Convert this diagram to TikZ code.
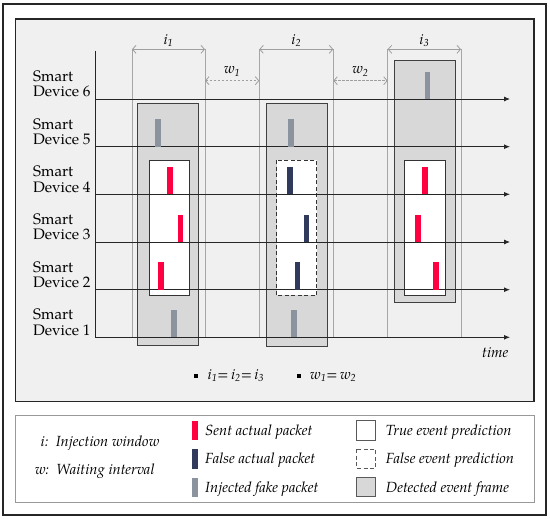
\documentclass[tikz,border=0pt]{standalone}
\usepackage{fontspec}
\setmainfont{TeX Gyre Pagella}
\usepackage{tikz}
\usetikzlibrary{arrows.meta}

\definecolor{sentred}{HTML}{FF0040}
\definecolor{falsenavy}{HTML}{2F3A5C}
\definecolor{fakegray}{HTML}{8A939E}
\definecolor{panelgray}{HTML}{F0F0F0}
\definecolor{framegray}{HTML}{D8D8D8}

\tikzset{
  devline/.style={black!85,line width=0.9pt,-{Latex[length=6pt,width=5pt]}},
  winline/.style={gray!70,line width=1pt},
  dimarrow/.style={gray!75,line width=0.8pt,
    {Straight Barb[length=3.5pt,width=8pt]}-{Straight Barb[length=3.5pt,width=8pt]}},
  waitarrow/.style={dimarrow,dash pattern=on 2.5pt off 1.5pt},
  eventframe/.style={draw=black!75,fill=framegray,line width=1pt},
  truebox/.style={draw=black!80,fill=white,line width=1pt},
  falsebox/.style={truebox,dash pattern=on 4pt off 2.5pt},
  devlabel/.style={align=left,inner sep=0pt,anchor=south west,
    font=\fontsize{15.2}{15.3}\selectfont},
  itlabel/.style={inner sep=0pt,font=\fontsize{14.7}{16}\selectfont\itshape},
}

\begin{document}
\begin{tikzpicture}[x=1pt,y=-1pt]
  \useasboundingbox (0,0) rectangle (550,519);
  \draw[black!85,line width=1.5pt,fill=white] (3,4) rectangle (546,515);
  \draw[black!85,line width=1.5pt,fill=panelgray] (15.5,19) rectangle (534,401.7);
  \draw[gray!80,line width=1pt,fill=white] (15.5,415) rectangle (534,502.7);

  % injection windows
  \foreach \x in {132,205,259.3,333.3,387.7,461}
    \draw[winline] (\x,49.3) -- (\x,337.3);
  \coordinate (a1) at (132,49.3);   \coordinate (b1) at (205,49.3);
  \coordinate (a2) at (259.3,49.3); \coordinate (b2) at (333.3,49.3);
  \coordinate (a3) at (387.7,49.3); \coordinate (b3) at (461,49.3);
  \coordinate (c1) at (205,80.7);   \coordinate (d1) at (259.3,80.7);
  \coordinate (c2) at (333.3,80.7); \coordinate (d2) at (387.7,80.7);
  \draw[dimarrow] (a1) -- (b1);
  \draw[dimarrow] (a2) -- (b2);
  \draw[dimarrow] (a3) -- (b3);
  \draw[waitarrow] (c1) -- (d1);
  \draw[waitarrow] (c2) -- (d2);
  \node[itlabel,anchor=base] (ione) at (168.5,44.5) {i\textsubscript{1}};
  \node[itlabel,anchor=base] (itwo) at (296.3,44.5) {i\textsubscript{2}};
  \node[itlabel,anchor=base] (ithree) at (424.3,44.5) {i\textsubscript{3}};
  \node[itlabel,anchor=base] (wone) at (232.2,74) {w\textsubscript{1}};
  \node[itlabel,anchor=base] (wtwo) at (360.5,74) {w\textsubscript{2}};

  % detected event frames and predictions
  \draw[eventframe] (137.3,103.7) rectangle (198.7,345.7);
  \draw[eventframe] (266,104) rectangle (327.3,346);
  \draw[eventframe] (394,60.7) rectangle (455.3,302.7);
  \draw[truebox] (149.7,160.7) rectangle (189.7,295.3);
  \draw[falsebox] (276.7,160.5) rectangle (316.7,295.3);
  \draw[truebox] (404.7,160.7) rectangle (445.3,295.3);

  % device time lines
  \draw[black!85,line width=0.9pt] (95.3,50.7) -- (95.3,337.3);
  \foreach \n/\y in {1/337.3,2/289.7,3/242,4/194.3,5/146.7,6/99}{
    \coordinate (s\n) at (95.3,\y);
    \coordinate (e\n) at (510,\y);
    \draw[devline] (s\n) -- (e\n);
    \node[devlabel] (dev\n) at (33,\y-1.5) {Smart\\Device \n};
  }
  \node[itlabel,anchor=base east] (time) at (508.5,357) {time};

  % packets
  \fill[fakegray]  (154.7,119.3) rectangle +(5.8,27.4);
  \fill[sentred]   (166.7,166.9) rectangle +(5.8,27.4);
  \fill[sentred]   (177.6,214.6) rectangle +(5.8,27.4);
  \fill[sentred]   (157.8,262.3) rectangle +(5.8,27.4);
  \fill[fakegray]  (171.0,309.9) rectangle +(5.8,27.4);
  \fill[fakegray]  (288.0,119.3) rectangle +(5.8,27.4);
  \fill[falsenavy] (287.0,166.9) rectangle +(5.8,27.4);
  \fill[falsenavy] (303.5,214.6) rectangle +(5.8,27.4);
  \fill[falsenavy] (294.6,262.3) rectangle +(5.8,27.4);
  \fill[fakegray]  (291.3,309.9) rectangle +(5.8,27.4);
  \fill[fakegray]  (424.6,71.6) rectangle +(5.8,27.4);
  \fill[sentred]   (422.0,166.9) rectangle +(5.8,27.4);
  \fill[sentred]   (414.8,214.6) rectangle +(5.8,27.4);
  \fill[sentred]   (433.3,262.3) rectangle +(5.8,27.4);

  % equalities
  \fill (194,374) rectangle +(4,4);
  \fill (297,374) rectangle +(4,4);
  \node[itlabel,anchor=base west] (ieq) at (207.5,379.5)
    {i\textsubscript{1}=\,i\textsubscript{2}=\,i\textsubscript{3}};
  \node[itlabel,anchor=base west] (weq) at (310,379.5)
    {w\textsubscript{1}=\,w\textsubscript{2}};

  % legend
  \node[itlabel,anchor=base west] (ileg) at (40.5,446.5) {i:\ \ Injection window};
  \node[itlabel,anchor=base west] (wleg) at (35,474.5) {w:\ \ Waiting interval};
  \fill[sentred]   (191.7,420.7) rectangle +(5.8,19.6);
  \fill[falsenavy] (191.7,449.2) rectangle +(5.8,19.6);
  \fill[fakegray]  (191.7,477.7) rectangle +(5.8,19.6);
  \node[itlabel,anchor=base west] (sentleg) at (205,435) {Sent actual packet};
  \node[itlabel,anchor=base west] (falseleg) at (205,463.5) {False actual packet};
  \node[itlabel,anchor=base west] (fakeleg) at (205,492) {Injected fake packet};
  \draw[truebox,draw=black!65] (356.7,420.7) rectangle (375.7,440);
  \draw[falsebox,draw=black!65] (356.7,449.2) rectangle (375.7,468.3);
  \draw[eventframe,draw=black!65] (356.7,477.7) rectangle (375.7,496.7);
  \node[itlabel,anchor=base west] (trueleg) at (385.7,435) {True event prediction};
  \node[itlabel,anchor=base west] (falsepred) at (385.7,463.5) {False event prediction};
  \node[itlabel,anchor=base west] (frameleg) at (385.7,492) {Detected event frame};
\end{tikzpicture}
\end{document}
